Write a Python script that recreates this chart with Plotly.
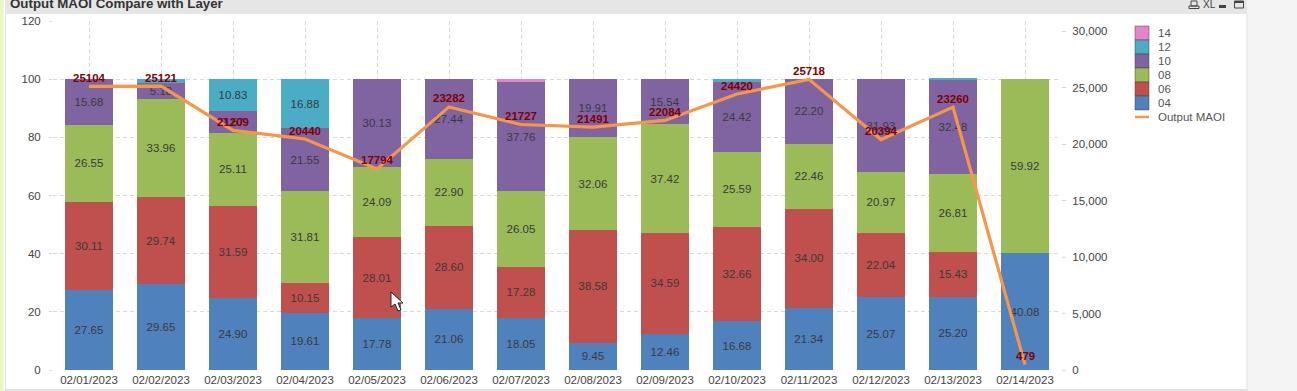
import plotly.graph_objects as go

dates = ["02/01/2023","02/02/2023","02/03/2023","02/04/2023","02/05/2023","02/06/2023","02/07/2023",
         "02/08/2023","02/09/2023","02/10/2023","02/11/2023","02/12/2023","02/13/2023","02/14/2023"]
layer_04 = [27.65,29.65,24.90,19.61,17.78,21.06,18.05,9.45,12.46,16.68,21.34,25.07,25.20,40.08]
layer_06 = [30.11,29.74,31.59,10.15,28.01,28.60,17.28,38.58,34.59,32.66,34.00,22.04,15.43,None]
layer_08 = [26.55,33.96,25.11,31.81,24.09,22.90,26.05,32.06,37.42,25.59,22.46,20.97,26.81,59.92]
layer_10 = [15.68,5.18,7.57,21.55,30.13,27.44,37.76,19.91,15.54,24.42,22.20,31.93,32.48,None]
layer_12 = [None,1.47,10.83,16.88,None,None,None,None,None,0.65,None,None,0.60,None]
layer_14 = [None,None,None,None,None,None,0.86,None,None,None,None,None,None,None]
output_maoi = [25104,25121,21209,20440,17794,23282,21727,21491,22084,24420,25718,20394,23260,479]

layers = [("04",layer_04,"#4F81BD"),("06",layer_06,"#C0504D"),("08",layer_08,"#9BBB59"),
          ("10",layer_10,"#8064A2"),("12",layer_12,"#4BACC6"),("14",layer_14,"#E783CB")]
LINE = "#F79646"
FONT = "Liberation Sans, Arial, sans-serif"
GRID = "#D9D9D9"
DASH = "4px,3px"

L, R, T, B = 53.0, 1061.0, 21.0, 370.0
W, H = 1297, 391
def px(x): return (x - L) / (R - L)
def py(y): return (B - y) / (B - T)

fig = go.Figure()
for name, vals, col in layers:
    fig.add_trace(go.Bar(
        x=dates, y=vals, name=name, marker=dict(color=col, line=dict(width=0)), width=0.667,
        text=[f"{v:.2f}" if (v is not None and v >= 2) else "" for v in vals],
        textposition="inside", insidetextanchor="middle", textangle=0, constraintext="none",
        textfont=dict(family=FONT, size=11.5, color="#3a3a3a"), showlegend=False, hoverinfo="x+y+name"))
fig.add_trace(go.Scatter(
    x=dates, y=output_maoi, name="Output MAOI", yaxis="y2", mode="lines",
    line=dict(color=LINE, width=3.2), showlegend=False, cliponaxis=False))

shapes, annots = [], []
def rect(x0, y0, x1, y1, fill, line=None, layer="below", lw=1):
    shapes.append(dict(type="rect", xref="paper", yref="paper", x0=px(x0), x1=px(x1), y0=py(y0), y1=py(y1),
                       fillcolor=fill, line=dict(color=line or fill, width=lw if line else 0), layer=layer))
def text(x, y, s, size=11.5, color="#555555", anchor="left", weight=None):
    annots.append(dict(xref="paper", yref="paper", x=px(x), y=py(y), text=s, showarrow=False,
                       xanchor=anchor, yanchor="middle", borderpad=0,
                       font=dict(family=FONT, size=size, color=color, weight=weight)))

# value labels of the line, placed through its own axes
for d, v in zip(dates, output_maoi):
    annots.append(dict(x=d, y=v, xref="x", yref="y2", text=str(v), showarrow=False, yanchor="middle",
                       xanchor="center", yshift=8.5, borderpad=0,
                       font=dict(family=FONT, size=11.5, color="#800000", weight="bold")))

# panel chrome
rect(0, 0, 3.5, H, "#E8F7C0")
rect(1247, 0, W, H, "#F4F4F4")
rect(5, 0, 6, H, "#E2E2E2")
rect(1246.5, 14, 1247.5, H, "#E2E2E2")
rect(5, 389, 1247, 391, "#E2E2E2")
rect(5, 0, 1247, 14, "#E6E6E6")
text(9, 3.8, "Output MAOI Compare with Layer", size=13.3, color="#333333", weight="bold")
# window icons
rect(1191, 1, 1197, 6, "rgba(0,0,0,0)", "#444444", "above")
rect(1189, 6, 1199, 8.5, "rgba(0,0,0,0)", "#444444", "above")
text(1209, 4.8, "XL", size=10, color="#444444", anchor="center")
rect(1219, 5, 1226, 8, "#444444", None, "above")
rect(1234.5, 1, 1243.5, 8, "rgba(0,0,0,0)", "#444444", "above")
rect(1234.5, 1, 1243.5, 3, "#444444", None, "above")

# legend, drawn because the native one cannot pack rows at 14 px
for i, (name, vals, col) in enumerate(reversed(layers)):
    y0 = 26 + 14 * i
    rect(1135, y0, 1149, y0 + 14, col, "rgba(60,60,60,0.45)", "above")
    text(1156.5, y0 + 7, name)
shapes.append(dict(type="line", xref="paper", yref="paper", x0=px(1135), x1=px(1149), y0=py(117), y1=py(117),
                   line=dict(color=LINE, width=2.5)))
text(1156.5, 117, "Output MAOI")

# mouse cursor
path = [(391,292),(391,307),(395,304),(398,311),(401,310),(398,303),(403,303)]
d_path = "M " + " L ".join(f"{px(a):.5f},{py(b):.5f}" for a, b in path) + " Z"
shapes.append(dict(type="path", xref="paper", yref="paper", path=d_path, fillcolor="white",
                   line=dict(color="#222222", width=1), layer="above"))

tick = dict(size=11.5, color="#444444")
fig.update_layout(
    width=W, height=H, barmode="stack", bargap=0.333, paper_bgcolor="white", plot_bgcolor="white",
    margin=dict(l=L, r=W - R, t=T, b=H - B, pad=0), showlegend=False,
    font=dict(family=FONT, size=12, color="#444444"), shapes=shapes, annotations=annots,
    xaxis=dict(type="category", range=[-0.5, 13.5], showgrid=True, gridcolor=GRID, griddash=DASH, gridwidth=1,
               ticks="", showline=False, zeroline=False, tickfont=tick, tickangle=0, automargin=False, ticklabelstandoff=1),
    yaxis=dict(range=[0, 120], dtick=20, showgrid=True, gridcolor=GRID, griddash=DASH, gridwidth=1,
               ticks="outside", ticklen=3, tickcolor=GRID, showline=False, zeroline=False,
               tickfont=tick, automargin=False, ticklabelstandoff=6),
    yaxis2=dict(overlaying="y", side="right", range=[0, 30000 * 349 / 339], tickvals=[0,5000,10000,15000,20000,25000,30000],
                tickformat=",", showgrid=False, zeroline=False, showline=False, ticks="outside", ticklen=4,
                tickcolor=GRID, tickfont=tick, automargin=False, ticklabelstandoff=4),
)
fig.write_html("out.html", config={"displayModeBar": False},
               post_script="document.body.style.margin='0';document.body.style.overflow='hidden';")
